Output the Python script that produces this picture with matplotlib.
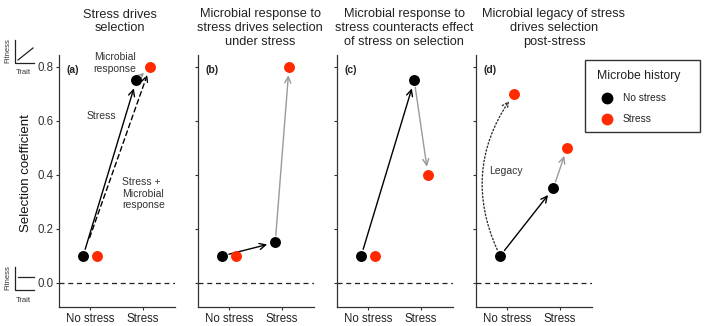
import matplotlib
matplotlib.use("Agg")
import matplotlib.pyplot as plt
from matplotlib.lines import Line2D
from matplotlib.patches import Rectangle

plt.rcParams['font.family'] = ['Liberation Sans', 'DejaVu Sans']

# ---- data ----
groups = ['No stress', 'Stress']
panel_labels = ['(a)', '(b)', '(c)', '(d)']
titles = ['Stress drives\nselection',
          'Microbial response to\nstress drives selection\nunder stress',
          'Microbial response to\nstress counteracts effect\nof stress on selection',
          'Microbial legacy of stress\ndrives selection\npost-stress']
black_vals = [[0.10, 0.75], [0.10, 0.15], [0.10, 0.75], [0.10, 0.35]]
red_vals = [[0.10, 0.80], [0.10, 0.80], [0.10, 0.40], [0.70, 0.50]]
yticks = [0.0, 0.2, 0.4, 0.6, 0.8]
legend_title = 'Microbe history'
legend_labels = ['No stress', 'Stress']

RED = '#ff2a00'
GRAY = '#9a9a9a'
TXT = '#333333'
W, H = 705, 326
fig = plt.figure(figsize=(W / 100, H / 100), dpi=100)

lefts = [59, 198, 337, 476]
title_centers = [120, 260, 404, 554]
pw = 116
top_px, bot_px = 55, 307
dodge = 0.13

def fx(px):
    return px / W

def fy(py):
    return 1 - py / H

def pos(series, gi):
    return (gi + 1 + (-dodge if series == 'k' else dodge))

axes = []
for i in range(4):
    ax = fig.add_axes([lefts[i] / W, (H - bot_px) / H, pw / W, (bot_px - top_px) / H])
    axes.append(ax)
    ax.set_xlim(0.415, 2.6)
    ax.set_ylim(-0.089, 0.844)
    for s in ['top', 'right']:
        ax.spines[s].set_visible(False)
    for s in ['left', 'bottom']:
        ax.spines[s].set_color('#333333')
        ax.spines[s].set_linewidth(0.9)
    ax.set_xticks([1, 2])
    ax.set_xticklabels(groups, fontsize=8.3, color='#222222')
    ax.set_yticks(yticks)
    if i == 0:
        ax.set_yticklabels([f'{v:.1f}' for v in yticks], fontsize=8.3, color='#333333')
        ax.set_ylabel('Selection coefficient', fontsize=9.5, color='#111111')
        ax.yaxis.set_label_coords(-0.235, 0.53)
    else:
        ax.set_yticklabels([])
    ax.tick_params(axis='both', length=2.5, width=0.8, color='#333333', pad=1.5)
    ax.axhline(0, color='#222222', lw=0.9, ls=(0, (4, 3)), zorder=1)
    ax.text(0.55, 0.79, panel_labels[i], fontsize=7.5, fontweight='bold', color='#222222',
            ha='left', va='center')
    fig.text(fx(title_centers[i]), fy(8.5), titles[i], ha='center', va='top',
             fontsize=9.2, color='#222222', linespacing=1.2)

def arrow(ax, p0, p1, color='black', ls='-', rad=0.0, sa=5, sb=6):
    ax.annotate('', xy=p1, xytext=p0,
                arrowprops=dict(arrowstyle='->,head_length=0.45,head_width=0.22', color=color,
                                lw=1.0, ls=ls, shrinkA=sa, shrinkB=sb,
                                connectionstyle=f'arc3,rad={rad}'), zorder=2)

for i, ax in enumerate(axes):
    kb = [(pos('k', g), black_vals[i][g]) for g in range(2)]
    rd = [(pos('r', g), red_vals[i][g]) for g in range(2)]
    arrow(ax, kb[0], kb[1], 'black')
    arrow(ax, kb[1], rd[1], GRAY)
    if i == 0:
        arrow(ax, kb[0], rd[1], 'black', ls=(0, (3.5, 2.5)), sa=14, sb=6)
    if i == 3:
        arrow(ax, kb[0], rd[0], '#333333', ls=(0, (1, 1.6)), rad=-0.3)
    ax.scatter([p[0] for p in kb], [p[1] for p in kb], s=62, color='black', zorder=3, lw=0)
    ax.scatter([p[0] for p in rd], [p[1] for p in rd], s=62, color=RED, zorder=3, lw=0)

# annotations
axes[0].text(1.47, 0.815, 'Microbial\nresponse', fontsize=7.5, color=TXT, ha='center',
             va='center', linespacing=1.2)
axes[0].text(1.21, 0.62, 'Stress', fontsize=7.5, color=TXT, ha='center', va='center')
axes[0].text(1.6, 0.33, 'Stress +\nMicrobial\nresponse', fontsize=7.5, color=TXT, ha='left',
             va='center', linespacing=1.2)
axes[3].text(0.66, 0.415, 'Legacy', fontsize=7.5, color=TXT, ha='left', va='center')

# legend (drawn in figure pixel coordinates)
fig.add_artist(Rectangle((fx(585), fy(132)), (700 - 585) / W, (132 - 60) / H,
                         transform=fig.transFigure, fill=False, edgecolor='#333333', lw=1.0))
fig.text(fx(597), fy(76), legend_title, fontsize=8.8, color='#222222', ha='left', va='center')
for lab, col, yy in zip(legend_labels, ['black', RED], [98, 119]):
    fig.add_artist(Line2D([fx(607)], [fy(yy)], marker='o', ls='', color=col, markersize=8.5,
                          markeredgewidth=0))
    fig.text(fx(623), fy(yy), lab, fontsize=7.3, color='#222222', ha='left', va='center')

# fitness/trait icons
def icon(top, diag):
    x0, x1 = 15, 34
    y_top, y_bot = top, top + 23
    fig.add_artist(Line2D([fx(x0), fx(x0), fx(x1)], [fy(y_top), fy(y_bot), fy(y_bot)],
                          color='#222222', lw=0.9))
    if diag:
        fig.add_artist(Line2D([fx(18), fx(33)], [fy(y_bot - 3), fy(y_top + 8)],
                              color='#222222', lw=0.9))
    else:
        fig.add_artist(Line2D([fx(18), fx(34)], [fy(y_top + 10), fy(y_top + 10)],
                              color='#222222', lw=0.9))
    fig.text(fx(8), fy(y_top + 11), 'Fitness', rotation=90, fontsize=5.5, ha='center',
             va='center', color='#333333')
    fig.text(fx(23), fy(y_bot + 10), 'Trait', fontsize=5.5, ha='center', va='center',
             color='#333333')

icon(40, True)
icon(267, False)

fig.savefig('out.png', dpi=100)
